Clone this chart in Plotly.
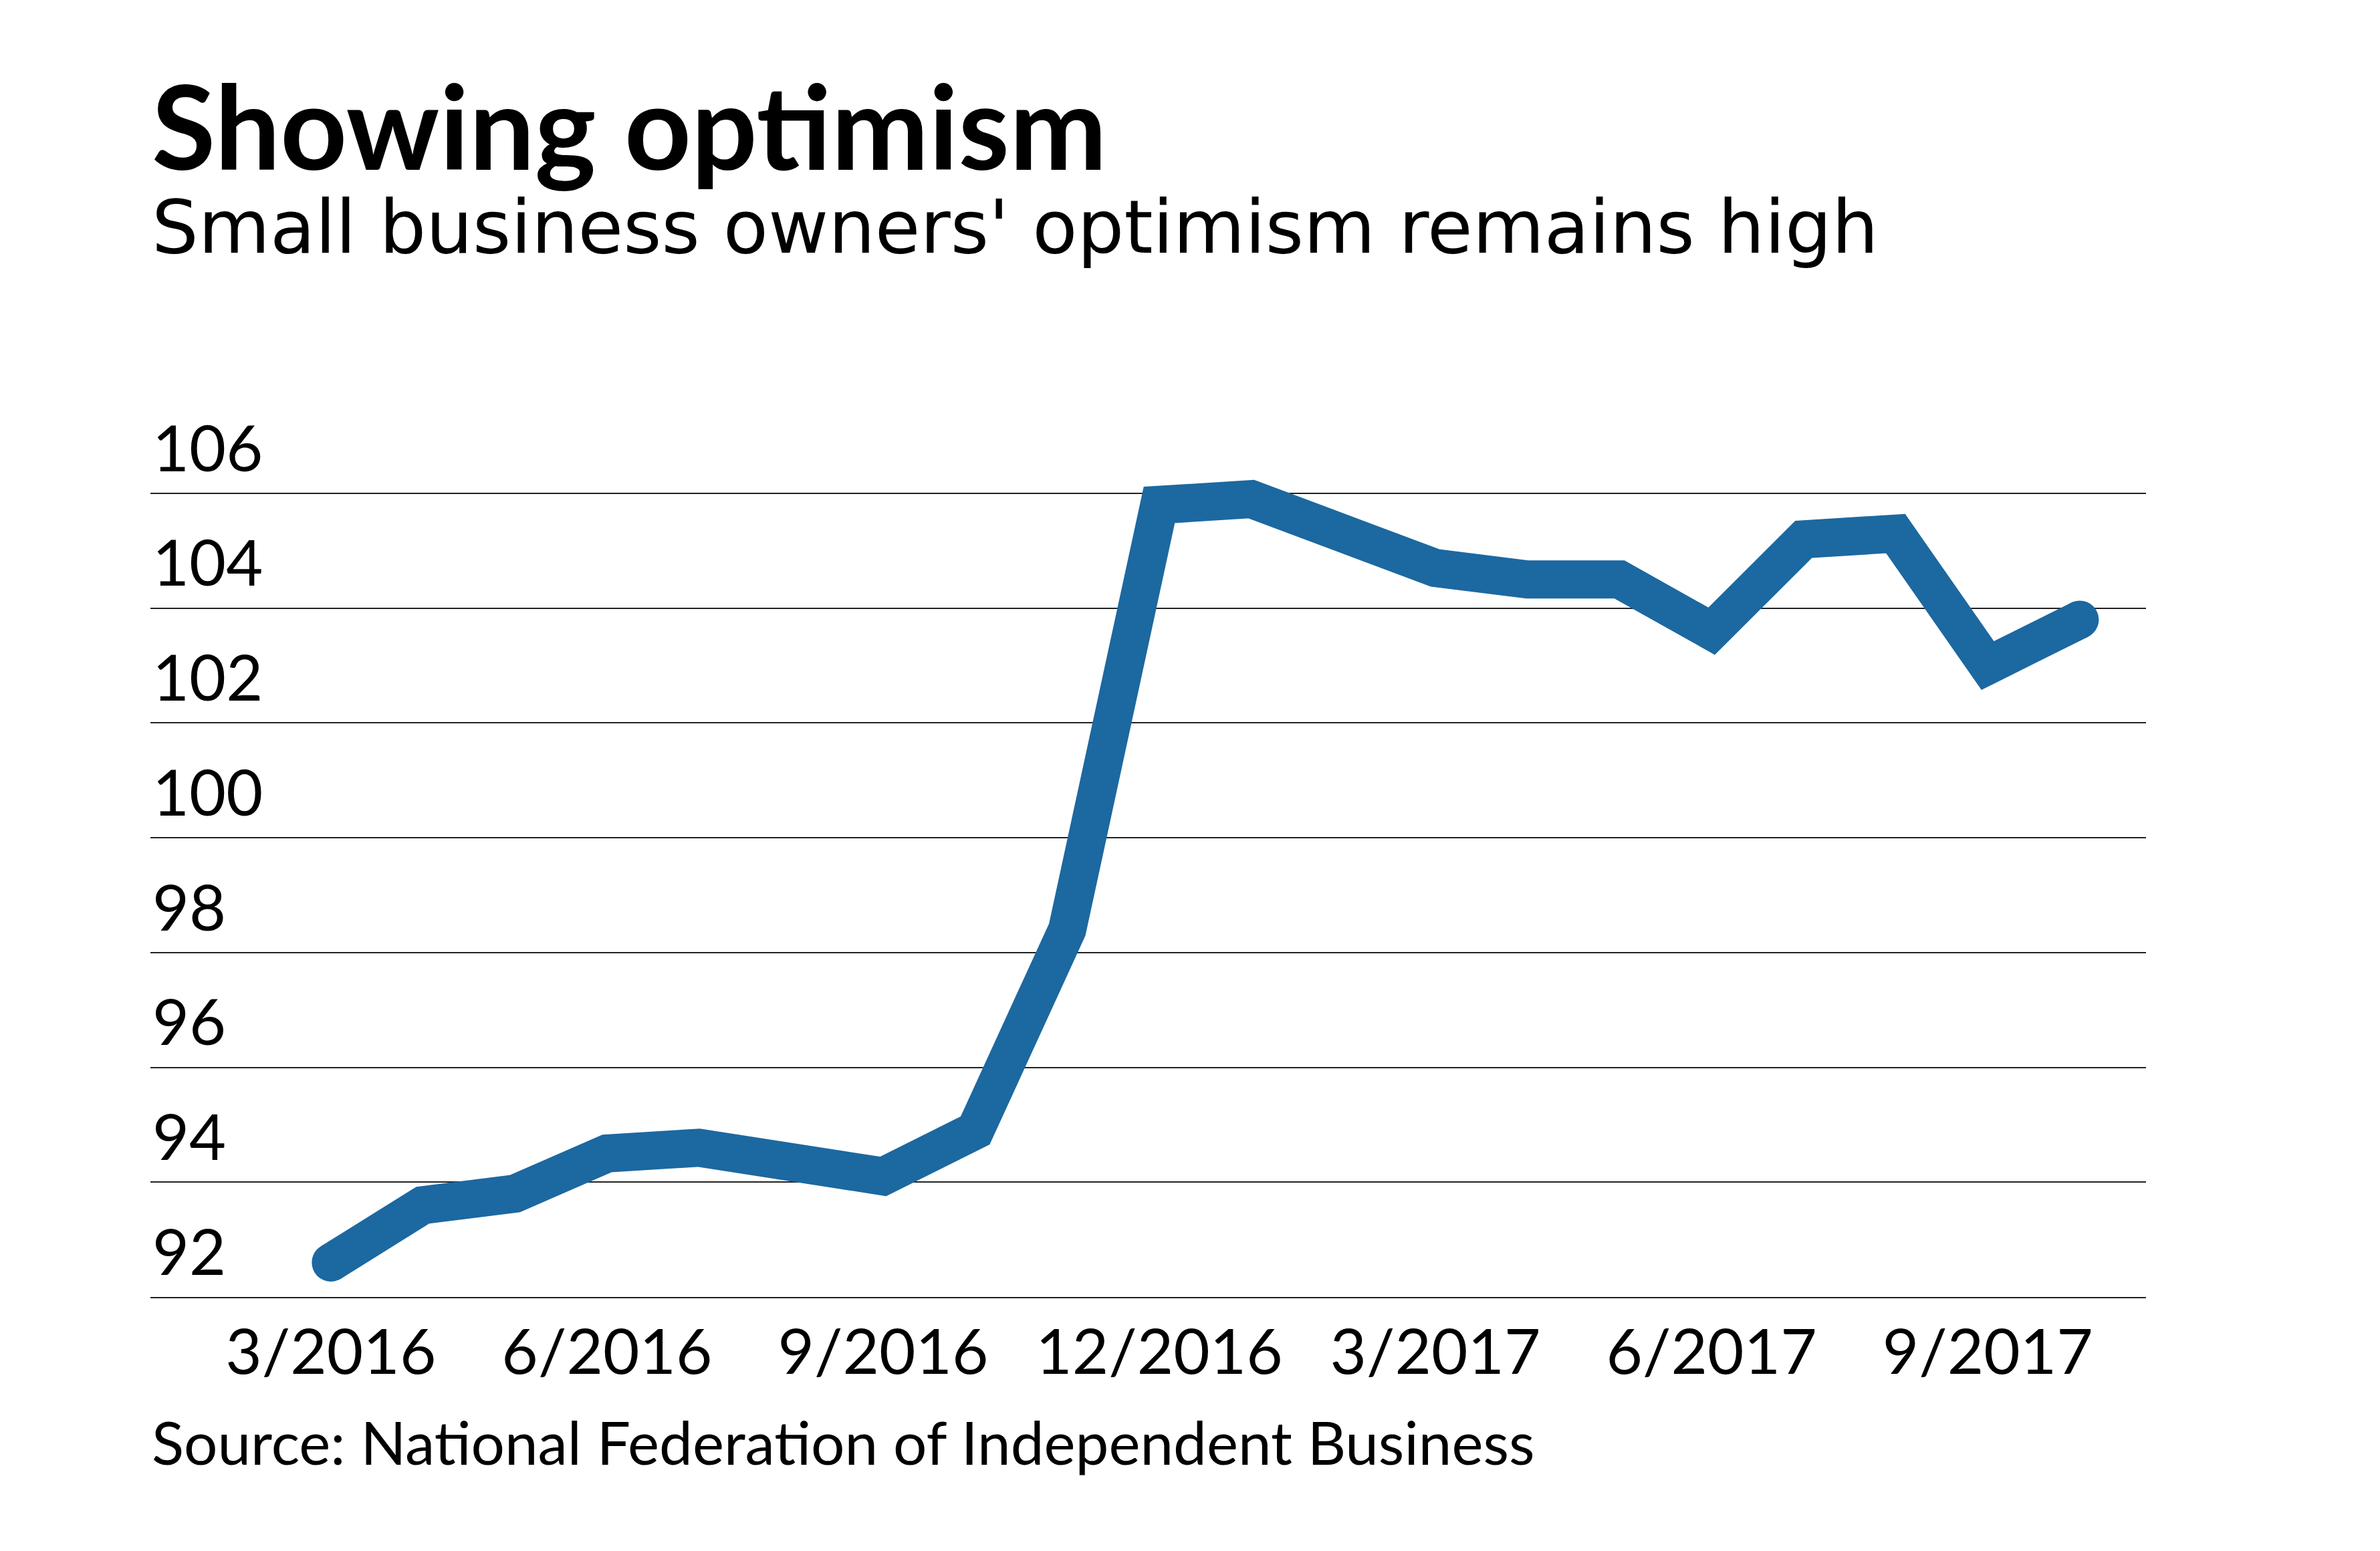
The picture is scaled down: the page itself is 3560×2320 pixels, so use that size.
import plotly.graph_objects as go

# NFIB small business optimism index, monthly 3/2016 - 10/2017
months = ["3/2016", "4/2016", "5/2016", "6/2016", "7/2016", "8/2016", "9/2016",
          "10/2016", "11/2016", "12/2016", "1/2017", "2/2017", "3/2017", "4/2017",
          "5/2017", "6/2017", "7/2017", "8/2017", "9/2017", "10/2017"]
optimism = [92.6, 93.6, 93.8, 94.5, 94.6, 94.4, 94.1, 94.9, 98.4, 105.8,
            105.9, 105.3, 104.7, 104.5, 104.5, 103.6, 105.2, 105.3, 103.0, 103.8]
tick_months = ["3/2016", "6/2016", "9/2016", "12/2016", "3/2017", "6/2017", "9/2017"]

W, H = 3560, 2320
OFF = 8  # default body margin of the html page
L, R, T, B = 225 - OFF, 350 + OFF, 635 - OFF, 380 + OFF
BLUE = "#1c68a0"
LINE_W = 57


def py(px):
    # pixel row on the page -> paper y
    return (H - B - (px - OFF)) / (H - T - B)


fig = go.Figure()
fig.add_trace(go.Scatter(
    x=months, y=optimism, mode="lines",
    line=dict(color=BLUE, width=LINE_W),
    hoverinfo="x+y", showlegend=False,
))
# round caps at both ends of the line
fig.add_trace(go.Scatter(
    x=[months[0], months[-1]], y=[optimism[0], optimism[-1]], mode="markers",
    marker=dict(color=BLUE, size=LINE_W, line_width=0),
    hoverinfo="skip", showlegend=False,
))

fig.update_layout(
    width=W, height=H,
    margin=dict(l=L, r=R, t=T, b=B),
    paper_bgcolor="white", plot_bgcolor="white",
    font=dict(family="Lato", color="black"),
    annotations=[
        dict(text="<b>Showing optimism</b>", x=0, y=py(186), xref="paper", yref="paper",
             xanchor="left", yanchor="middle", showarrow=False,
             font=dict(family="Lato", size=174, color="black")),
        dict(text="Small business owners' optimism remains high", x=0, y=py(340),
             xref="paper", yref="paper", xanchor="left", yanchor="middle",
             showarrow=False, font=dict(family="DejaVu Sans", size=110, color="black")),
        dict(text="Source: National Federation of Independent Business", x=0, y=py(2156),
             xref="paper", yref="paper", xanchor="left", yanchor="middle",
             showarrow=False, font=dict(family="Lato", size=89, color="black")),
    ],
)

fig.update_xaxes(
    type="category", range=[-1.96, 19.72],
    tickmode="array", tickvals=tick_months, ticktext=tick_months,
    showgrid=False, zeroline=False, ticks="",
    showline=True, linecolor="#222222", linewidth=2,
    tickfont=dict(family="Lato", size=94, color="black"),
    fixedrange=True,
)
fig.update_yaxes(
    range=[92, 107.2], tick0=92, dtick=2,
    showgrid=True, gridcolor="#222222", gridwidth=2,
    zeroline=False, showline=False, ticks="",
    ticklabelposition="inside top", ticklabeloverflow="allow",
    tickfont=dict(family="Lato", size=95, color="black"),
    fixedrange=True,
)

fig.write_html("out.html")
